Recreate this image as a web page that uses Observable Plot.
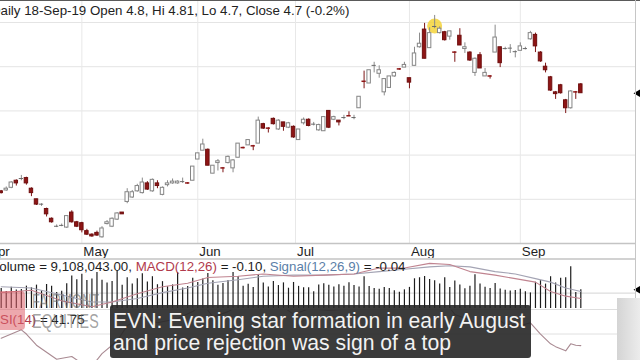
<!DOCTYPE html>
<html>
<head>
<meta charset="utf-8">
<script src="https://cdn.jsdelivr.net/npm/d3@7"></script>
<script src="https://cdn.jsdelivr.net/npm/@observablehq/plot@0.6"></script>
<style>
html,body{margin:0;padding:0;background:#fff;}
#wrap{position:relative;width:640px;height:360px;overflow:hidden;background:#fff;font-family:'Liberation Sans',Arial,sans-serif;}
#wrap svg{overflow:hidden;}
.pnl{position:absolute;left:0;}
.line{position:absolute;}
.lbl{position:absolute;white-space:nowrap;font-size:13.3px;line-height:15px;color:#1e1e1e;}
.m{color:#b13a4c;}
.s{color:#5b7fa8;}
#logo{position:absolute;left:0;top:291px;width:25px;height:39px;background:rgba(222,96,106,0.55);border-radius:0 4px 4px 0;}
.lt{position:absolute;left:32px;font-size:21px;line-height:21px;color:rgba(105,105,105,0.62);transform-origin:left top;white-space:nowrap;}
#cap{position:absolute;left:110px;top:305px;width:421px;height:53px;background:rgba(38,38,38,0.9);border-radius:3px;color:#f2f2f2;font-size:21.2px;line-height:22px;padding:4.6px 0 0 3px;box-sizing:border-box;white-space:nowrap;}
#video{position:absolute;left:617px;top:298px;width:23px;height:62px;background:linear-gradient(90deg,#d4d4d4,#ececec);}
</style>
</head>
<body>
<div id="wrap"></div>
<script>
// ---- data (trading-day index 0..115, late Apr 2019 to 18 Sep 2019) ----
const opens = [
3.59,3.60,3.63,3.71,3.73,3.74,3.62,3.50,3.44,3.39,
3.28,3.19,3.20,3.18,3.35,3.24,3.23,3.14,3.10,3.12,
3.07,3.22,3.19,3.27,3.35,3.47,3.52,3.59,3.57,3.68,
3.59,3.68,3.55,3.66,3.68,3.68,3.70,3.69,3.71,3.95,
4.05,4.06,3.79,3.91,3.86,3.91,3.85,3.97,4.09,4.11,
4.11,4.13,4.35,4.31,4.41,4.29,4.37,4.31,4.32,4.17,
4.36,4.40,4.35,4.28,4.27,4.50,4.40,4.39,4.42,4.45,
4.42,4.53,4.84,4.81,5.01,4.92,4.71,4.76,4.89,4.98,
4.99,4.87,5.01,5.22,5.42,5.21,5.45,5.38,5.39,5.34,
5.17,5.35,5.20,5.16,4.93,5.13,4.89,4.90,5.16,5.22,
5.20,5.21,5.17,5.18,5.20,5.31,5.36,5.16,5.00,4.88,
4.71,4.79,4.62,4.53,4.72,4.80];
const highs = [
3.60,3.64,3.70,3.72,3.77,3.75,3.63,3.50,3.45,3.40,
3.29,3.21,3.22,3.31,3.37,3.25,3.24,3.16,3.11,3.14,
3.19,3.26,3.29,3.35,3.35,3.62,3.60,3.67,3.74,3.70,
3.73,3.71,3.64,3.71,3.73,3.71,3.74,3.69,3.87,4.02,
4.18,4.07,3.88,3.95,3.86,3.99,3.95,4.13,4.09,4.17,
4.11,4.43,4.36,4.31,4.42,4.40,4.37,4.37,4.33,4.29,
4.42,4.41,4.37,4.35,4.43,4.50,4.44,4.39,4.45,4.49,
4.45,4.66,4.95,4.96,5.05,5.01,4.86,4.89,4.94,4.98,
5.05,4.87,5.22,5.38,5.49,5.44,5.58,5.45,5.40,5.40,
5.17,5.43,5.27,5.17,5.10,5.16,4.98,4.90,5.47,5.22,
5.22,5.25,5.18,5.27,5.22,5.40,5.38,5.17,5.04,4.89,
4.72,4.80,4.63,4.73,4.72,4.81];
const lows = [
3.56,3.59,3.62,3.65,3.71,3.66,3.53,3.43,3.42,3.30,
3.23,3.18,3.19,3.17,3.23,3.18,3.12,3.09,3.07,3.08,
3.06,3.21,3.18,3.26,3.33,3.45,3.51,3.58,3.56,3.60,
3.58,3.62,3.54,3.64,3.67,3.67,3.68,3.67,3.71,3.95,
4.05,3.88,3.79,3.82,3.80,3.90,3.80,3.97,4.07,4.11,
4.05,4.13,4.29,4.25,4.34,4.28,4.27,4.30,4.19,4.17,
4.34,4.32,4.33,4.27,4.27,4.30,4.39,4.33,4.40,4.44,
4.40,4.53,4.75,4.81,4.93,4.87,4.67,4.76,4.88,4.96,
4.99,4.75,5.01,5.21,5.09,5.21,5.43,5.37,5.29,5.30,
5.05,5.24,5.15,5.06,4.89,4.98,4.89,4.86,5.16,4.99,
5.19,5.15,5.10,5.18,5.19,5.30,5.16,5.05,4.93,4.72,
4.63,4.69,4.47,4.52,4.63,4.70];
const closes = [
3.57,3.62,3.69,3.68,3.74,3.68,3.57,3.44,3.45,3.33,
3.24,3.20,3.21,3.31,3.24,3.19,3.15,3.10,3.08,3.09,
3.17,3.24,3.28,3.34,3.33,3.58,3.58,3.65,3.69,3.61,
3.72,3.65,3.63,3.68,3.70,3.70,3.70,3.68,3.87,4.02,
4.12,3.88,3.88,3.93,3.85,3.98,3.94,4.13,4.08,4.17,
4.10,4.39,4.30,4.30,4.35,4.39,4.32,4.36,4.20,4.29,
4.40,4.33,4.35,4.34,4.43,4.31,4.43,4.37,4.43,4.44,
4.43,4.66,4.83,4.96,5.02,4.96,4.86,4.89,4.93,4.97,
5.02,4.82,5.15,5.26,5.09,5.38,5.46,5.43,5.30,5.40,
5.16,5.24,5.22,5.07,5.09,4.98,4.93,4.89,5.33,5.04,
5.21,5.21,5.17,5.23,5.21,5.38,5.23,5.06,4.96,4.73,
4.69,4.70,4.53,4.72,4.71,4.70];
// volume in millions of shares
const volumes = [
9.8,8.3,10.4,9.0,9.3,10.9,10.1,11.4,8.7,11.7,
10.8,7.8,8.4,12.1,15.9,14.0,16.7,13.6,14.4,17.5,
13.8,12.4,13.2,18.2,11.3,15.0,12.0,14.5,17.0,12.9,
15.5,11.6,13.1,10.6,11.5,17.5,10.0,10.7,14.7,12.7,
14.4,17.1,13.5,11.3,12.2,13.6,17.6,15.6,10.9,11.8,
10.2,16.3,12.4,10.5,13.2,11.2,12.5,9.9,12.7,10.8,
10.1,10.1,8.2,11.5,12.1,11.3,10.5,11.6,10.9,12.6,
11.2,10.5,15.5,10.7,9.8,9.4,10.2,9.8,8.7,7.9,
9.1,10.3,14.5,15.0,15.6,14.2,13.5,12.0,15.0,10.2,
13.4,11.5,9.6,10.8,16.5,12.0,10.4,9.8,12.2,9.5,
8.9,8.5,8.8,9.4,8.2,7.6,12.8,13.6,11.9,15.5,
12.4,14.8,15.0,20.4,7.8,9.108043];
const macdIdx   = [0,6,12,18,22,27,32,37,41,47,52,58,64,70,75,80,85,89,93,98,102,106,109,112,115];
const macdVals  = [-0.05,-0.03,-0.12,-0.17,-0.13,-0.06,0.00,0.03,0.08,0.09,0.11,0.09,0.10,0.11,0.16,0.16,0.20,0.19,0.13,0.10,0.07,0.04,-0.04,-0.08,-0.10];
const signalVals= [0.00,-0.01,-0.07,-0.13,-0.13,-0.10,-0.05,-0.01,0.03,0.06,0.09,0.10,0.10,0.11,0.13,0.15,0.17,0.18,0.17,0.13,0.11,0.07,0.04,-0.01,-0.04];
const rsiIdx  = [0,2,4,5,7,9,11,14,16,18,20,23,25,28,31,35,38,40,42,45,47,50,51,55,58,61,65,70,72,76,80,84,87,90,93,95,98,100,103,105,107,109,110,112,113,114,115];
const rsiVals = [47,50,53,50,42,37,32,34,29,27,36,45,56,62,58,61,66,72,62,66,70,68,76,72,64,68,67,68,78,70,74,70,78,64,60,56,62,57,56,58,50,43,41,38,43,42,41.75];
const monthNames = ["Apr","May","Jun","Jul","Aug","Sep"];
const monthIdx   = [-2.7,16,39,58.4,81,103];
const priceTicks = [3.5,4.0,4.5,5.0,5.5];
const volGrid = [7.5];
const rsiGrid = [50];
const cursorIdx = [86];
const lastDate = "18-Sep-19";
const caption = ["EVN: Evening star formation in early August","and price rejection was sign of a top"];

// ---- build ----
const font = "'Liberation Sans', Arial, sans-serif";
const xDomain = [-0.14, 125.85];
const n = closes.length;
const last = n - 1;
const bars = opens.map((o, i) => ({i, o, h: highs[i], l: lows[i], c: closes[i], up: closes[i] >= o}));
const ups = bars.filter(d => d.up), downs = bars.filter(d => !d.up);
const minBody = 0.015;
const isFlat = d => Math.abs(d.c - d.o) < minBody;
const months = monthNames.map((name, k) => ({name, i: monthIdx[k]}));
const volRows = volumes.map((v, i) => ({i, v}));
const macdRows = macdIdx.map((i, k) => ({i, v: macdVals[k]}));
const sigRows = macdIdx.map((i, k) => ({i, v: signalVals[k]}));
const rsiRows = rsiIdx.map((i, k) => ({i, v: rsiVals[k]}));
const cursor = cursorIdx.map(i => ({i, p: closes[i]}));
const pct = ((closes[last] - closes[last - 1]) / closes[last - 1] * 100).toFixed(1);
const title = `Daily ${lastDate} Open ${opens[last]}, Hi ${highs[last]}, Lo ${lows[last]}, Close ${closes[last]} (${pct}%)`;

const common = {width: 640, marginLeft: 0, marginRight: 5, x: {domain: xDomain, axis: null},
  style: {fontFamily: font, background: "transparent"}};

const price = Plot.plot({
  ...common, height: 259, marginTop: 0, marginBottom: 16,
  y: {domain: [3.0, 5.749], axis: null},
  marks: [
    Plot.ruleY(priceTicks, {stroke: "#e4e4e4"}),
    Plot.ruleX(months, {x: "i", stroke: "#e8e8e8"}),
    Plot.ruleY([3.0], {stroke: "#c4c4c4", strokeWidth: 1.5}),
    Plot.dot(cursor, {x: "i", y: "p", r: 7.5, fill: "#f4d33a", fillOpacity: 0.85}),
    Plot.ruleX(ups, {x: "i", y1: "l", y2: "h", stroke: "#8a8a8a"}),
    Plot.ruleX(downs, {x: "i", y1: "l", y2: "h", stroke: "#7d1616"}),
    Plot.rect(ups.filter(d => !isFlat(d)), {x1: d => d.i - 0.34, x2: d => d.i + 0.34, y1: "o", y2: "c", fill: "#fff", stroke: "#858585"}),
    Plot.rect(downs.filter(d => !isFlat(d)), {x1: d => d.i - 0.34, x2: d => d.i + 0.34, y1: "o", y2: "c", fill: "#8e1515", stroke: "#6e0e0e"}),
    Plot.ruleY(ups.filter(isFlat), {y: d => (d.o + d.c) / 2, x1: d => d.i - 0.42, x2: d => d.i + 0.42, stroke: "#6a6a6a"}),
    Plot.ruleY(downs.filter(isFlat), {y: d => (d.o + d.c) / 2, x1: d => d.i - 0.42, x2: d => d.i + 0.42, stroke: "#8e1515", strokeWidth: 1.5}),
    Plot.text([title], {frameAnchor: "top-left", textAnchor: "start", lineAnchor: "top", dx: -9.6, dy: 4.6, fontSize: 13.3, fill: "#222"}),
    Plot.text(months, {x: "i", text: "name", frameAnchor: "bottom", textAnchor: "start", lineAnchor: "top", dx: 1.5, dy: 2.6, fontSize: 13.3, fill: "#1e1e1e"}),
    Plot.dot([bars[last]], {x: () => xDomain[1], y: "c", dx: 3, symbol: "triangle", rotate: -90, r: 3.2, fill: "#000"})
  ]
});

const vol = Plot.plot({
  ...common, height: 51, marginTop: 0, marginBottom: 2,
  y: {domain: [0, 23.9], axis: null},
  marks: [
    Plot.ruleY(volGrid, {stroke: "#d4d4d4"}),
    Plot.ruleX(volRows, {x: "i", y1: 0, y2: "v", stroke: "#1c1c1c", strokeWidth: 1.2}),
    Plot.dot([volRows[last]], {x: () => xDomain[1], y: "v", dx: 3, symbol: "triangle", rotate: -90, r: 3.2, fill: "#000"})
  ]
});

const macd = Plot.plot({
  ...common, height: 51, marginTop: 0, marginBottom: 0,
  y: {domain: [-0.2026, 0.2333], axis: null},
  marks: [
    Plot.line(sigRows, {x: "i", y: "v", stroke: "#a4a4b4", strokeWidth: 1.1}),
    Plot.line(macdRows, {x: "i", y: "v", stroke: "#c08490", strokeWidth: 1.1})
  ]
});

const rsi = Plot.plot({
  ...common, height: 50, marginTop: 0, marginBottom: 0,
  y: {domain: [31.1, 66.8], axis: null},
  marks: [
    Plot.ruleY(rsiGrid, {stroke: "#e0e0e0"}),
    Plot.line(rsiRows, {x: "i", y: "v", stroke: "#a98a92", strokeWidth: 1.1})
  ]
});

const wrap = document.getElementById("wrap");
function place(node, top) {
  const d = document.createElement("div");
  d.className = "pnl"; d.style.top = top + "px";
  d.appendChild(node); wrap.appendChild(d);
}
place(price, 0);
place(vol, 259);
place(macd, 259);
place(rsi, 310);

function box(cls, css, html) {
  const d = document.createElement("div");
  d.className = cls; d.style.cssText = css;
  if (html != null) d.innerHTML = html;
  wrap.appendChild(d); return d;
}
box("line", "left:0;top:0;width:640px;height:1px;background:#5a5a5a;");
box("line", "left:0;top:258px;width:635px;height:2px;background:#d2d2d2;");
box("line", "left:0;top:309px;width:635px;height:1px;background:#dedede;");
box("line", "left:635px;top:0;width:1px;height:300px;background:#c6c6c6;");

const fmtVol = d3.format(",.2f");
box("lbl", "left:-8.9px;top:259.4px;",
  `Volume = ${fmtVol(volumes[last] * 1e6)}, <span class="m">MACD(12,26)</span> = ${macdVals[macdVals.length-1].toFixed(2)}, <span class="s">Signal(12,26,9)</span> = ${signalVals[signalVals.length-1].toFixed(2)}`);
box("lbl", "left:-9.6px;top:311.9px;",
  `<span class="m">RSI(14)</span> = ${rsiVals[rsiVals.length-1].toFixed(2)}`);

box("", "", null).id = "logo";
box("lt", "top:290.3px;transform:scaleX(0.62);", "FAIRMONT");
box("lt", "top:310.3px;transform:scaleX(0.68);", "EQUITIES");
box("", "", caption.join("<br>")).id = "cap";
box("", "", null).id = "video";
</script>
</body>
</html>
